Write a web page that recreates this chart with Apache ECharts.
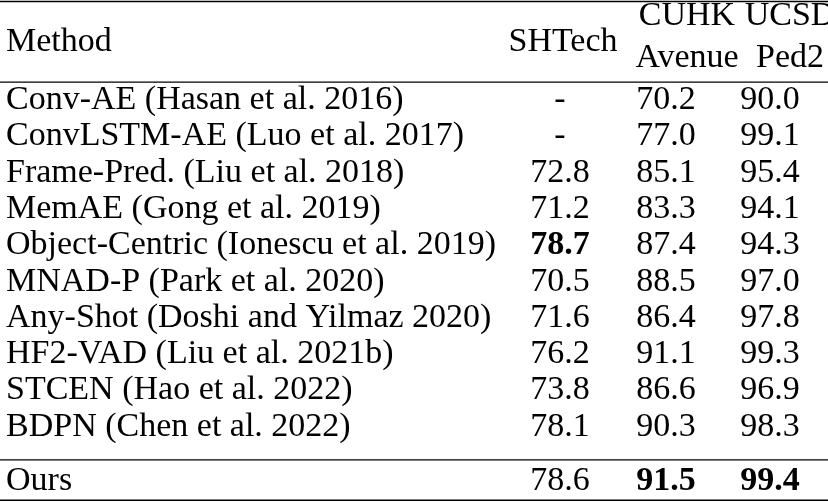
<!DOCTYPE html>
<html>
<head>
<meta charset="utf-8">
<style>html,body{margin:0;padding:0;background:#fff}#c{width:828px;height:502px}</style>
<script src="https://cdn.jsdelivr.net/npm/echarts@6/dist/echarts.min.js"></script>
</head>
<body>
<div id="c"></div>
<script>
// table content
const methods = ['Conv-AE (Hasan et al. 2016)', 'ConvLSTM-AE (Luo et al. 2017)', 'Frame-Pred. (Liu et al. 2018)',
  'MemAE (Gong et al. 2019)', 'Object-Centric (Ionescu et al. 2019)', 'MNAD-P (Park et al. 2020)',
  'Any-Shot (Doshi and Yilmaz 2020)', 'HF2-VAD (Liu et al. 2021b)', 'STCEN (Hao et al. 2022)',
  'BDPN (Chen et al. 2022)', 'Ours'];
const shtech = ['-', '-', '72.8', '71.2', '78.7', '70.5', '71.6', '76.2', '73.8', '78.1', '78.6'];
const avenue = ['70.2', '77.0', '85.1', '83.3', '87.4', '88.5', '86.4', '91.1', '86.6', '90.3', '91.5'];
const ped2 = ['90.0', '99.1', '95.4', '94.1', '94.3', '97.0', '97.8', '99.3', '96.9', '98.3', '99.4'];
const bold = [[4, 1], [10, 2], [10, 3]]; // [row, col]
const rowPos = [0, 1, 2, 3, 4, 5, 6, 7, 8, 9, 10.5];

const font = '"Liberation Serif", "DejaVu Serif", serif';
const colX = [6, 560, 666, 770];
const cols = [methods, shtech, avenue, ped2];

const cells = [];
cols.forEach((col, c) => col.forEach((t, r) => {
  const b = bold.some(p => p[0] === r && p[1] === c);
  cells.push([colX[c], rowPos[r] + 0.06, t, c === 0 ? 'left' : 'center', b ? 'bold' : 'normal']);
}));
// header
cells.push([6, -1.55, 'Method', 'left', 'normal']);
cells.push([563, -1.55, 'SHTech', 'center', 'normal']);
cells.push([687, -2.25, 'CUHK', 'center', 'normal']);
cells.push([687, -1.1, 'Avenue', 'center', 'normal']);
cells.push([790, -2.25, 'UCSD', 'center', 'normal']);
cells.push([790, -1.1, 'Ped2', 'center', 'normal']);

const rules = [[-2.66, 1.5], [-0.44, 1.2], [9.97, 1.2], [11.08, 1.5]];

const chart = echarts.init(document.getElementById('c'));
chart.setOption({
  animation: false,
  grid: { left: 0, right: 0, top: 0, bottom: 0 },
  xAxis: { type: 'value', min: 0, max: 828, show: false },
  yAxis: { type: 'value', min: -2.7, max: 11.13, inverse: true, show: false },
  series: [{
    type: 'custom',
    data: cells,
    renderItem: (params, api) => {
      const p = api.coord([api.value(0), api.value(1)]);
      const d = cells[params.dataIndex];
      return {
        type: 'text',
        style: {
          x: p[0], y: p[1], text: d[2], align: d[3], verticalAlign: 'middle',
          fontFamily: font, fontSize: 34, fontWeight: d[4], fill: '#000'
        }
      };
    }
  }, {
    type: 'custom',
    data: rules,
    renderItem: (params, api) => {
      const a = api.coord([0, api.value(0)]);
      const b = api.coord([828, api.value(0)]);
      return { type: 'line', shape: { x1: a[0], y1: a[1], x2: b[0], y2: b[1] },
        style: { stroke: '#000', lineWidth: api.value(1) } };
    }
  }]
});
</script>
</body>
</html>
